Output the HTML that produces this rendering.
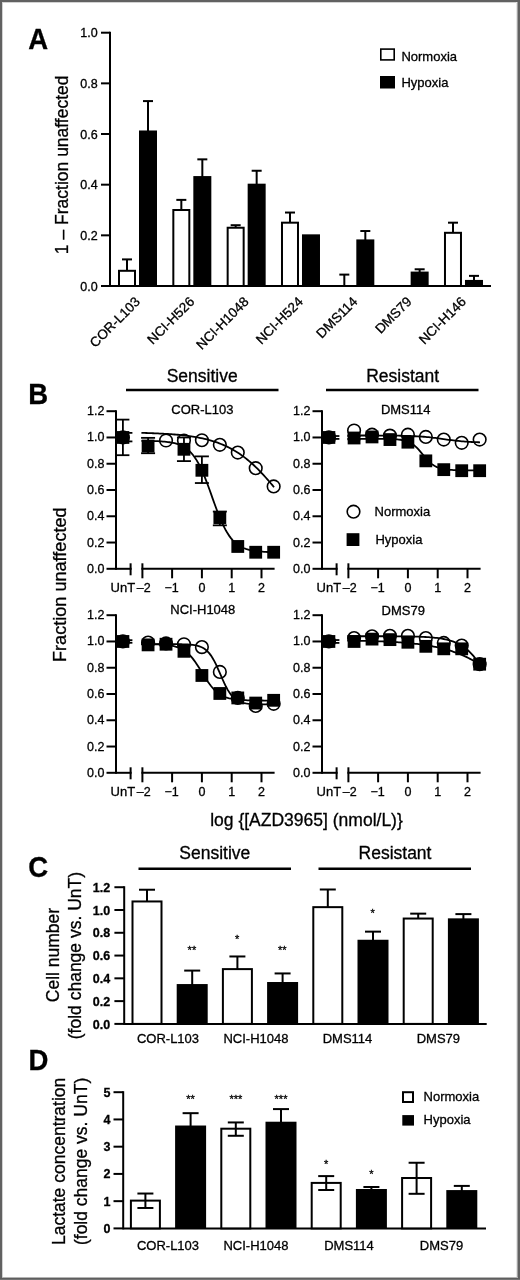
<!DOCTYPE html>
<html><head><meta charset="utf-8"><title>Figure</title>
<style>
html,body{margin:0;padding:0;background:#fff;}
.fig{position:relative;width:520px;height:1280px;background:#fff;overflow:hidden;}
svg{position:absolute;left:0;top:0;display:block;}
text{font-family:"Liberation Sans",Arial,Helvetica,sans-serif;fill:#000;stroke:#000;stroke-width:0.3px;}
</style></head><body>
<div class="fig"><svg width="520" height="1280" viewBox="0 0 520 1280">
<text transform="translate(28.3 49.4) scale(0.95 1)" font-size="29" font-weight="bold">A</text>
<line x1="110" y1="31.7" x2="110" y2="287" stroke="#000" stroke-width="2"/>
<line x1="110" y1="286" x2="491" y2="286" stroke="#000" stroke-width="2"/>
<line x1="101" y1="286" x2="110" y2="286" stroke="#000" stroke-width="2"/>
<text x="97.6" y="290.5" font-size="12.5" text-anchor="end">0.0</text>
<line x1="101" y1="235.34" x2="110" y2="235.34" stroke="#000" stroke-width="2"/>
<text x="97.6" y="239.84" font-size="12.5" text-anchor="end">0.2</text>
<line x1="101" y1="184.68" x2="110" y2="184.68" stroke="#000" stroke-width="2"/>
<text x="97.6" y="189.18" font-size="12.5" text-anchor="end">0.4</text>
<line x1="101" y1="134.02" x2="110" y2="134.02" stroke="#000" stroke-width="2"/>
<text x="97.6" y="138.52" font-size="12.5" text-anchor="end">0.6</text>
<line x1="101" y1="83.36" x2="110" y2="83.36" stroke="#000" stroke-width="2"/>
<text x="97.6" y="87.86" font-size="12.5" text-anchor="end">0.8</text>
<line x1="101" y1="32.7" x2="110" y2="32.7" stroke="#000" stroke-width="2"/>
<text x="97.6" y="37.2" font-size="12.5" text-anchor="end">1.0</text>
<text x="67.7" y="164.8" font-size="17.5" text-anchor="middle" transform="rotate(-90 67.7 164.8)">1 – Fraction unaffected</text>
<line x1="127" y1="270.8" x2="127" y2="259.4" stroke="#000" stroke-width="2"/>
<line x1="122" y1="259.4" x2="132" y2="259.4" stroke="#000" stroke-width="2"/>
<line x1="148" y1="131.49" x2="148" y2="101.09" stroke="#000" stroke-width="2"/>
<line x1="143" y1="101.09" x2="153" y2="101.09" stroke="#000" stroke-width="2"/>
<rect x="119" y="270.8" width="16" height="15.2" fill="#fff" stroke="#000" stroke-width="2"/>
<rect x="139" y="130.49" width="18" height="155.51" fill="#000"/>
<text x="140.9" y="302.5" font-size="13.5" text-anchor="end" transform="rotate(-45 140.9 302.5)">COR-L103</text>
<line x1="181.33" y1="210.01" x2="181.33" y2="199.88" stroke="#000" stroke-width="2"/>
<line x1="176.33" y1="199.88" x2="186.33" y2="199.88" stroke="#000" stroke-width="2"/>
<line x1="202.33" y1="177.08" x2="202.33" y2="159.35" stroke="#000" stroke-width="2"/>
<line x1="197.33" y1="159.35" x2="207.33" y2="159.35" stroke="#000" stroke-width="2"/>
<rect x="173.33" y="210.01" width="16" height="75.99" fill="#fff" stroke="#000" stroke-width="2"/>
<rect x="193.33" y="176.08" width="18" height="109.92" fill="#000"/>
<text x="195.23" y="302.5" font-size="13.5" text-anchor="end" transform="rotate(-45 195.23 302.5)">NCI-H526</text>
<line x1="235.66" y1="227.74" x2="235.66" y2="225.21" stroke="#000" stroke-width="2"/>
<line x1="230.66" y1="225.21" x2="240.66" y2="225.21" stroke="#000" stroke-width="2"/>
<line x1="256.66" y1="184.68" x2="256.66" y2="170.75" stroke="#000" stroke-width="2"/>
<line x1="251.66" y1="170.75" x2="261.66" y2="170.75" stroke="#000" stroke-width="2"/>
<rect x="227.66" y="227.74" width="16" height="58.26" fill="#fff" stroke="#000" stroke-width="2"/>
<rect x="247.66" y="183.68" width="18" height="102.32" fill="#000"/>
<text x="249.56" y="302.5" font-size="13.5" text-anchor="end" transform="rotate(-45 249.56 302.5)">NCI-H1048</text>
<line x1="289.99" y1="222.68" x2="289.99" y2="212.54" stroke="#000" stroke-width="2"/>
<line x1="284.99" y1="212.54" x2="294.99" y2="212.54" stroke="#000" stroke-width="2"/>
<rect x="281.99" y="222.68" width="16" height="63.32" fill="#fff" stroke="#000" stroke-width="2"/>
<rect x="301.99" y="234.34" width="18" height="51.66" fill="#000"/>
<text x="303.89" y="302.5" font-size="13.5" text-anchor="end" transform="rotate(-45 303.89 302.5)">NCI-H524</text>
<line x1="344.32" y1="286" x2="344.32" y2="274.6" stroke="#000" stroke-width="2"/>
<line x1="339.32" y1="274.6" x2="349.32" y2="274.6" stroke="#000" stroke-width="2"/>
<line x1="365.32" y1="240.41" x2="365.32" y2="231.03" stroke="#000" stroke-width="2"/>
<line x1="360.32" y1="231.03" x2="370.32" y2="231.03" stroke="#000" stroke-width="2"/>
<rect x="356.32" y="239.41" width="18" height="46.59" fill="#000"/>
<text x="358.22" y="302.5" font-size="13.5" text-anchor="end" transform="rotate(-45 358.22 302.5)">DMS114</text>
<line x1="419.65" y1="272.58" x2="419.65" y2="269.28" stroke="#000" stroke-width="2"/>
<line x1="414.65" y1="269.28" x2="424.65" y2="269.28" stroke="#000" stroke-width="2"/>
<rect x="410.65" y="271.58" width="18" height="14.42" fill="#000"/>
<text x="412.55" y="302.5" font-size="13.5" text-anchor="end" transform="rotate(-45 412.55 302.5)">DMS79</text>
<line x1="452.98" y1="232.81" x2="452.98" y2="222.68" stroke="#000" stroke-width="2"/>
<line x1="447.98" y1="222.68" x2="457.98" y2="222.68" stroke="#000" stroke-width="2"/>
<line x1="473.98" y1="280.93" x2="473.98" y2="275.87" stroke="#000" stroke-width="2"/>
<line x1="468.98" y1="275.87" x2="478.98" y2="275.87" stroke="#000" stroke-width="2"/>
<rect x="444.98" y="232.81" width="16" height="53.19" fill="#fff" stroke="#000" stroke-width="2"/>
<rect x="464.98" y="279.93" width="18" height="6.07" fill="#000"/>
<text x="466.88" y="302.5" font-size="13.5" text-anchor="end" transform="rotate(-45 466.88 302.5)">NCI-H146</text>
<rect x="380.8" y="49.1" width="13.4" height="10.8" fill="#fff" stroke="#000" stroke-width="1.6"/>
<rect x="380" y="76" width="15" height="12.5" fill="#000"/>
<text x="401.4" y="60.6" font-size="13">Normoxia</text>
<text x="401.4" y="86.7" font-size="13">Hypoxia</text>
<text transform="translate(28.3 403.6) scale(0.95 1)" font-size="29" font-weight="bold">B</text>
<line x1="126" y1="390" x2="278.5" y2="390" stroke="#000" stroke-width="2.4"/>
<line x1="326" y1="390" x2="478.5" y2="390" stroke="#000" stroke-width="2.4"/>
<text x="202.2" y="381.5" font-size="17.5" text-anchor="middle">Sensitive</text>
<text x="402.7" y="381.5" font-size="17.5" text-anchor="middle">Resistant</text>
<text x="66" y="584.7" font-size="18.1" text-anchor="middle" transform="rotate(-90 66 584.7)">Fraction unaffected</text>
<text x="306.5" y="825.5" font-size="17.5" text-anchor="middle">log {[AZD3965] (nmol/L)}</text>
<line x1="116" y1="410.2" x2="116" y2="569.8" stroke="#000" stroke-width="2"/>
<line x1="106.5" y1="568.8" x2="116" y2="568.8" stroke="#000" stroke-width="2"/>
<text x="104.5" y="572.8" font-size="12.5" text-anchor="end">0.0</text>
<line x1="106.5" y1="542.53" x2="116" y2="542.53" stroke="#000" stroke-width="2"/>
<text x="104.5" y="546.53" font-size="12.5" text-anchor="end">0.2</text>
<line x1="106.5" y1="516.27" x2="116" y2="516.27" stroke="#000" stroke-width="2"/>
<text x="104.5" y="520.27" font-size="12.5" text-anchor="end">0.4</text>
<line x1="106.5" y1="490" x2="116" y2="490" stroke="#000" stroke-width="2"/>
<text x="104.5" y="494" font-size="12.5" text-anchor="end">0.6</text>
<line x1="106.5" y1="463.74" x2="116" y2="463.74" stroke="#000" stroke-width="2"/>
<text x="104.5" y="467.74" font-size="12.5" text-anchor="end">0.8</text>
<line x1="106.5" y1="437.47" x2="116" y2="437.47" stroke="#000" stroke-width="2"/>
<text x="104.5" y="441.47" font-size="12.5" text-anchor="end">1.0</text>
<line x1="106.5" y1="411.2" x2="116" y2="411.2" stroke="#000" stroke-width="2"/>
<text x="104.5" y="415.2" font-size="12.5" text-anchor="end">1.2</text>
<line x1="116" y1="568.8" x2="131.6" y2="568.8" stroke="#000" stroke-width="2"/>
<line x1="130.6" y1="563.3" x2="130.6" y2="575.3" stroke="#000" stroke-width="2"/>
<line x1="141.4" y1="568.8" x2="274.6" y2="568.8" stroke="#000" stroke-width="2"/>
<line x1="142.4" y1="563.3" x2="142.4" y2="578.3" stroke="#000" stroke-width="2"/>
<line x1="172.1" y1="568.8" x2="172.1" y2="578.3" stroke="#000" stroke-width="2"/>
<line x1="201.9" y1="568.8" x2="201.9" y2="578.3" stroke="#000" stroke-width="2"/>
<line x1="231.7" y1="568.8" x2="231.7" y2="578.3" stroke="#000" stroke-width="2"/>
<line x1="261.5" y1="568.8" x2="261.5" y2="578.3" stroke="#000" stroke-width="2"/>
<text x="110.6" y="591.8" font-size="13">UnT</text>
<text x="143.8" y="591.8" font-size="12.5" text-anchor="middle">–2</text>
<text x="171.6" y="591.8" font-size="12.5" text-anchor="middle">−1</text>
<text x="201.9" y="591.8" font-size="12.5" text-anchor="middle">0</text>
<text x="231.7" y="591.8" font-size="12.5" text-anchor="middle">1</text>
<text x="261.5" y="591.8" font-size="12.5" text-anchor="middle">2</text>
<text x="202.4" y="413.7" font-size="13" text-anchor="middle">COR-L103</text>
<path d="M141.41 432.89 L143.06 432.93 L144.72 432.97 L146.38 433.02 L148.04 433.07 L149.69 433.13 L151.35 433.18 L153.01 433.24 L154.67 433.31 L156.32 433.38 L157.98 433.45 L159.64 433.53 L161.30 433.61 L162.96 433.70 L164.61 433.79 L166.27 433.89 L167.93 433.99 L169.59 434.10 L171.24 434.22 L172.90 434.35 L174.56 434.48 L176.22 434.62 L177.87 434.77 L179.53 434.93 L181.19 435.10 L182.85 435.28 L184.50 435.47 L186.16 435.67 L187.82 435.88 L189.48 436.11 L191.13 436.34 L192.79 436.60 L194.45 436.87 L196.11 437.15 L197.77 437.45 L199.42 437.77 L201.08 438.11 L202.74 438.46 L204.40 438.84 L206.05 439.24 L207.71 439.66 L209.37 440.10 L211.03 440.57 L212.68 441.07 L214.34 441.59 L216.00 442.14 L217.66 442.72 L219.31 443.34 L220.97 443.98 L222.63 444.66 L224.29 445.37 L225.94 446.12 L227.60 446.91 L229.26 447.73 L230.92 448.60 L232.58 449.51 L234.23 450.46 L235.89 451.45 L237.55 452.49 L239.21 453.57 L240.86 454.70 L242.52 455.88 L244.18 457.11 L245.84 458.38 L247.49 459.71 L249.15 461.08 L250.81 462.51 L252.47 463.98 L254.12 465.51 L255.78 467.08 L257.44 468.70 L259.10 470.37 L260.75 472.08 L262.41 473.84 L264.07 475.64 L265.73 477.48 L267.39 479.36 L269.04 481.27 L270.70 483.22 L272.36 485.20 L274.02 487.21" stroke="#000" stroke-width="1.8" fill="none"/>
<path d="M141.41 440.84 L143.06 440.86 L144.72 440.88 L146.38 440.90 L148.04 440.93 L149.69 440.96 L151.35 440.99 L153.01 441.04 L154.67 441.09 L156.32 441.15 L157.98 441.22 L159.64 441.31 L161.30 441.41 L162.96 441.53 L164.61 441.67 L166.27 441.84 L167.93 442.03 L169.59 442.26 L171.24 442.53 L172.90 442.85 L174.56 443.23 L176.22 443.67 L177.87 444.18 L179.53 444.79 L181.19 445.49 L182.85 446.32 L184.50 447.27 L186.16 448.38 L187.82 449.66 L189.48 451.14 L191.13 452.83 L192.79 454.76 L194.45 456.95 L196.11 459.41 L197.77 462.17 L199.42 465.22 L201.08 468.58 L202.74 472.23 L204.40 476.16 L206.05 480.33 L207.71 484.71 L209.37 489.26 L211.03 493.90 L212.68 498.58 L214.34 503.23 L216.00 507.79 L217.66 512.20 L219.31 516.40 L220.97 520.37 L222.63 524.06 L224.29 527.46 L225.94 530.55 L227.60 533.35 L229.26 535.86 L230.92 538.08 L232.58 540.05 L234.23 541.77 L235.89 543.28 L237.55 544.59 L239.21 545.72 L240.86 546.69 L242.52 547.54 L244.18 548.26 L245.84 548.87 L247.49 549.40 L249.15 549.85 L250.81 550.24 L252.47 550.56 L254.12 550.84 L255.78 551.08 L257.44 551.28 L259.10 551.45 L260.75 551.59 L262.41 551.71 L264.07 551.81 L265.73 551.90 L267.39 551.98 L269.04 552.04 L270.70 552.09 L272.36 552.14 L274.02 552.18" stroke="#000" stroke-width="1.8" fill="none"/>
<line x1="122.9" y1="455.2" x2="122.9" y2="419.61" stroke="#000" stroke-width="1.8"/>
<line x1="117" y1="455.2" x2="129.4" y2="455.2" stroke="#000" stroke-width="1.8"/>
<line x1="117" y1="419.61" x2="129.4" y2="419.61" stroke="#000" stroke-width="1.8"/>
<line x1="122.9" y1="441.41" x2="122.9" y2="432.87" stroke="#000" stroke-width="1.8"/>
<line x1="117" y1="441.41" x2="132.4" y2="441.41" stroke="#000" stroke-width="1.8"/>
<line x1="117" y1="432.87" x2="132.4" y2="432.87" stroke="#000" stroke-width="1.8"/>
<line x1="148.08" y1="453.23" x2="148.08" y2="437.86" stroke="#000" stroke-width="1.8"/>
<line x1="141.08" y1="453.23" x2="155.08" y2="453.23" stroke="#000" stroke-width="1.8"/>
<line x1="141.08" y1="437.86" x2="155.08" y2="437.86" stroke="#000" stroke-width="1.8"/>
<line x1="183.96" y1="461.11" x2="183.96" y2="437.47" stroke="#000" stroke-width="1.8"/>
<line x1="176.96" y1="461.11" x2="190.96" y2="461.11" stroke="#000" stroke-width="1.8"/>
<line x1="176.96" y1="437.47" x2="190.96" y2="437.47" stroke="#000" stroke-width="1.8"/>
<line x1="201.9" y1="483.04" x2="201.9" y2="456.38" stroke="#000" stroke-width="1.8"/>
<line x1="194.9" y1="483.04" x2="208.9" y2="483.04" stroke="#000" stroke-width="1.8"/>
<line x1="194.9" y1="456.38" x2="208.9" y2="456.38" stroke="#000" stroke-width="1.8"/>
<line x1="219.84" y1="525.33" x2="219.84" y2="511.54" stroke="#000" stroke-width="1.8"/>
<line x1="212.84" y1="525.33" x2="226.84" y2="525.33" stroke="#000" stroke-width="1.8"/>
<line x1="212.84" y1="511.54" x2="226.84" y2="511.54" stroke="#000" stroke-width="1.8"/>
<circle cx="122.9" cy="437.47" r="6.3" fill="none" stroke="#000" stroke-width="1.6"/>
<circle cx="166.02" cy="440.49" r="6.3" fill="none" stroke="#000" stroke-width="1.6"/>
<circle cx="183.96" cy="440.49" r="6.3" fill="none" stroke="#000" stroke-width="1.6"/>
<circle cx="201.9" cy="440.23" r="6.3" fill="none" stroke="#000" stroke-width="1.6"/>
<circle cx="219.84" cy="444.82" r="6.3" fill="none" stroke="#000" stroke-width="1.6"/>
<circle cx="237.78" cy="452.57" r="6.3" fill="none" stroke="#000" stroke-width="1.6"/>
<circle cx="255.72" cy="468.2" r="6.3" fill="none" stroke="#000" stroke-width="1.6"/>
<circle cx="273.66" cy="486.46" r="6.3" fill="none" stroke="#000" stroke-width="1.6"/>
<rect x="116.5" y="431.07" width="12.8" height="12.8" fill="#000"/>
<rect x="141.68" y="439.61" width="12.8" height="12.8" fill="#000"/>
<rect x="177.56" y="442.89" width="12.8" height="12.8" fill="#000"/>
<rect x="195.5" y="463.9" width="12.8" height="12.8" fill="#000"/>
<rect x="213.44" y="511.18" width="12.8" height="12.8" fill="#000"/>
<rect x="231.38" y="540.07" width="12.8" height="12.8" fill="#000"/>
<rect x="249.32" y="545.85" width="12.8" height="12.8" fill="#000"/>
<rect x="267.26" y="545.85" width="12.8" height="12.8" fill="#000"/>
<line x1="322" y1="410.2" x2="322" y2="569.8" stroke="#000" stroke-width="2"/>
<line x1="312.5" y1="568.8" x2="322" y2="568.8" stroke="#000" stroke-width="2"/>
<text x="310.5" y="572.8" font-size="12.5" text-anchor="end">0.0</text>
<line x1="312.5" y1="542.53" x2="322" y2="542.53" stroke="#000" stroke-width="2"/>
<text x="310.5" y="546.53" font-size="12.5" text-anchor="end">0.2</text>
<line x1="312.5" y1="516.27" x2="322" y2="516.27" stroke="#000" stroke-width="2"/>
<text x="310.5" y="520.27" font-size="12.5" text-anchor="end">0.4</text>
<line x1="312.5" y1="490" x2="322" y2="490" stroke="#000" stroke-width="2"/>
<text x="310.5" y="494" font-size="12.5" text-anchor="end">0.6</text>
<line x1="312.5" y1="463.74" x2="322" y2="463.74" stroke="#000" stroke-width="2"/>
<text x="310.5" y="467.74" font-size="12.5" text-anchor="end">0.8</text>
<line x1="312.5" y1="437.47" x2="322" y2="437.47" stroke="#000" stroke-width="2"/>
<text x="310.5" y="441.47" font-size="12.5" text-anchor="end">1.0</text>
<line x1="312.5" y1="411.2" x2="322" y2="411.2" stroke="#000" stroke-width="2"/>
<text x="310.5" y="415.2" font-size="12.5" text-anchor="end">1.2</text>
<line x1="322" y1="568.8" x2="337.6" y2="568.8" stroke="#000" stroke-width="2"/>
<line x1="336.6" y1="563.3" x2="336.6" y2="575.3" stroke="#000" stroke-width="2"/>
<line x1="347.4" y1="568.8" x2="480.6" y2="568.8" stroke="#000" stroke-width="2"/>
<line x1="348.4" y1="563.3" x2="348.4" y2="578.3" stroke="#000" stroke-width="2"/>
<line x1="378.1" y1="568.8" x2="378.1" y2="578.3" stroke="#000" stroke-width="2"/>
<line x1="407.9" y1="568.8" x2="407.9" y2="578.3" stroke="#000" stroke-width="2"/>
<line x1="437.7" y1="568.8" x2="437.7" y2="578.3" stroke="#000" stroke-width="2"/>
<line x1="467.5" y1="568.8" x2="467.5" y2="578.3" stroke="#000" stroke-width="2"/>
<text x="316.6" y="591.8" font-size="13">UnT</text>
<text x="349.8" y="591.8" font-size="12.5" text-anchor="middle">–2</text>
<text x="377.6" y="591.8" font-size="12.5" text-anchor="middle">−1</text>
<text x="407.9" y="591.8" font-size="12.5" text-anchor="middle">0</text>
<text x="437.7" y="591.8" font-size="12.5" text-anchor="middle">1</text>
<text x="467.5" y="591.8" font-size="12.5" text-anchor="middle">2</text>
<text x="405.7" y="414" font-size="13" text-anchor="middle">DMS114</text>
<path d="M347.41 435.50 L349.06 435.50 L350.72 435.51 L352.38 435.51 L354.04 435.51 L355.69 435.51 L357.35 435.51 L359.01 435.51 L360.67 435.51 L362.32 435.51 L363.98 435.52 L365.64 435.52 L367.30 435.52 L368.96 435.52 L370.61 435.53 L372.27 435.53 L373.93 435.53 L375.59 435.54 L377.24 435.54 L378.90 435.55 L380.56 435.55 L382.22 435.56 L383.87 435.57 L385.53 435.58 L387.19 435.59 L388.85 435.60 L390.50 435.62 L392.16 435.63 L393.82 435.65 L395.48 435.67 L397.13 435.69 L398.79 435.72 L400.45 435.75 L402.11 435.78 L403.77 435.82 L405.42 435.86 L407.08 435.90 L408.74 435.96 L410.40 436.01 L412.05 436.08 L413.71 436.15 L415.37 436.23 L417.03 436.32 L418.68 436.42 L420.34 436.52 L422.00 436.64 L423.66 436.77 L425.31 436.91 L426.97 437.06 L428.63 437.22 L430.29 437.40 L431.94 437.58 L433.60 437.77 L435.26 437.98 L436.92 438.19 L438.58 438.41 L440.23 438.64 L441.89 438.87 L443.55 439.10 L445.21 439.33 L446.86 439.56 L448.52 439.78 L450.18 440.00 L451.84 440.22 L453.49 440.42 L455.15 440.62 L456.81 440.80 L458.47 440.98 L460.12 441.14 L461.78 441.29 L463.44 441.44 L465.10 441.57 L466.75 441.68 L468.41 441.79 L470.07 441.89 L471.73 441.98 L473.39 442.06 L475.04 442.14 L476.70 442.20 L478.36 442.26 L480.02 442.31" stroke="#000" stroke-width="1.8" fill="none"/>
<path d="M347.41 438.78 L349.06 438.78 L350.72 438.78 L352.38 438.78 L354.04 438.78 L355.69 438.78 L357.35 438.78 L359.01 438.78 L360.67 438.79 L362.32 438.79 L363.98 438.79 L365.64 438.79 L367.30 438.79 L368.96 438.79 L370.61 438.79 L372.27 438.80 L373.93 438.80 L375.59 438.80 L377.24 438.81 L378.90 438.82 L380.56 438.83 L382.22 438.84 L383.87 438.86 L385.53 438.88 L387.19 438.91 L388.85 438.95 L390.50 439.00 L392.16 439.06 L393.82 439.14 L395.48 439.24 L397.13 439.37 L398.79 439.54 L400.45 439.75 L402.11 440.02 L403.77 440.36 L405.42 440.80 L407.08 441.34 L408.74 442.00 L410.40 442.82 L412.05 443.82 L413.71 445.00 L415.37 446.37 L417.03 447.94 L418.68 449.69 L420.34 451.58 L422.00 453.57 L423.66 455.58 L425.31 457.57 L426.97 459.45 L428.63 461.20 L430.29 462.76 L431.94 464.13 L433.60 465.31 L435.26 466.29 L436.92 467.11 L438.58 467.77 L440.23 468.31 L441.89 468.74 L443.55 469.08 L445.21 469.34 L446.86 469.56 L448.52 469.72 L450.18 469.85 L451.84 469.95 L453.49 470.03 L455.15 470.09 L456.81 470.14 L458.47 470.18 L460.12 470.20 L461.78 470.23 L463.44 470.24 L465.10 470.26 L466.75 470.27 L468.41 470.28 L470.07 470.28 L471.73 470.29 L473.39 470.29 L475.04 470.29 L476.70 470.29 L478.36 470.30 L480.02 470.30" stroke="#000" stroke-width="1.8" fill="none"/>
<line x1="328.9" y1="440.75" x2="328.9" y2="434.19" stroke="#000" stroke-width="1.8"/>
<line x1="323" y1="440.75" x2="335.4" y2="440.75" stroke="#000" stroke-width="1.8"/>
<line x1="323" y1="434.19" x2="335.4" y2="434.19" stroke="#000" stroke-width="1.8"/>
<line x1="328.9" y1="438.91" x2="328.9" y2="436.03" stroke="#000" stroke-width="1.8"/>
<line x1="323" y1="438.91" x2="339.4" y2="438.91" stroke="#000" stroke-width="1.8"/>
<line x1="323" y1="436.03" x2="339.4" y2="436.03" stroke="#000" stroke-width="1.8"/>
<line x1="354.08" y1="439.44" x2="354.08" y2="436.16" stroke="#000" stroke-width="1.8"/>
<line x1="347.58" y1="439.44" x2="360.58" y2="439.44" stroke="#000" stroke-width="1.8"/>
<line x1="347.58" y1="436.16" x2="360.58" y2="436.16" stroke="#000" stroke-width="1.8"/>
<circle cx="328.9" cy="437.47" r="6.3" fill="none" stroke="#000" stroke-width="1.6"/>
<circle cx="354.08" cy="430.51" r="6.3" fill="none" stroke="#000" stroke-width="1.6"/>
<circle cx="372.02" cy="434.71" r="6.3" fill="none" stroke="#000" stroke-width="1.6"/>
<circle cx="389.96" cy="435.63" r="6.3" fill="none" stroke="#000" stroke-width="1.6"/>
<circle cx="407.9" cy="434.71" r="6.3" fill="none" stroke="#000" stroke-width="1.6"/>
<circle cx="425.84" cy="436.94" r="6.3" fill="none" stroke="#000" stroke-width="1.6"/>
<circle cx="443.78" cy="439.57" r="6.3" fill="none" stroke="#000" stroke-width="1.6"/>
<circle cx="461.72" cy="442.85" r="6.3" fill="none" stroke="#000" stroke-width="1.6"/>
<circle cx="479.66" cy="439.57" r="6.3" fill="none" stroke="#000" stroke-width="1.6"/>
<rect x="322.5" y="431.07" width="12.8" height="12.8" fill="#000"/>
<rect x="347.68" y="431.6" width="12.8" height="12.8" fill="#000"/>
<rect x="365.62" y="430.54" width="12.8" height="12.8" fill="#000"/>
<rect x="383.56" y="433.17" width="12.8" height="12.8" fill="#000"/>
<rect x="401.5" y="435.8" width="12.8" height="12.8" fill="#000"/>
<rect x="419.44" y="454.45" width="12.8" height="12.8" fill="#000"/>
<rect x="437.38" y="463.25" width="12.8" height="12.8" fill="#000"/>
<rect x="455.32" y="464.3" width="12.8" height="12.8" fill="#000"/>
<rect x="473.26" y="464.3" width="12.8" height="12.8" fill="#000"/>
<line x1="116" y1="614.2" x2="116" y2="773.8" stroke="#000" stroke-width="2"/>
<line x1="106.5" y1="772.8" x2="116" y2="772.8" stroke="#000" stroke-width="2"/>
<text x="104.5" y="776.8" font-size="12.5" text-anchor="end">0.0</text>
<line x1="106.5" y1="746.53" x2="116" y2="746.53" stroke="#000" stroke-width="2"/>
<text x="104.5" y="750.53" font-size="12.5" text-anchor="end">0.2</text>
<line x1="106.5" y1="720.27" x2="116" y2="720.27" stroke="#000" stroke-width="2"/>
<text x="104.5" y="724.27" font-size="12.5" text-anchor="end">0.4</text>
<line x1="106.5" y1="694" x2="116" y2="694" stroke="#000" stroke-width="2"/>
<text x="104.5" y="698" font-size="12.5" text-anchor="end">0.6</text>
<line x1="106.5" y1="667.74" x2="116" y2="667.74" stroke="#000" stroke-width="2"/>
<text x="104.5" y="671.74" font-size="12.5" text-anchor="end">0.8</text>
<line x1="106.5" y1="641.47" x2="116" y2="641.47" stroke="#000" stroke-width="2"/>
<text x="104.5" y="645.47" font-size="12.5" text-anchor="end">1.0</text>
<line x1="106.5" y1="615.2" x2="116" y2="615.2" stroke="#000" stroke-width="2"/>
<text x="104.5" y="619.2" font-size="12.5" text-anchor="end">1.2</text>
<line x1="116" y1="772.8" x2="131.6" y2="772.8" stroke="#000" stroke-width="2"/>
<line x1="130.6" y1="767.3" x2="130.6" y2="779.3" stroke="#000" stroke-width="2"/>
<line x1="141.4" y1="772.8" x2="274.6" y2="772.8" stroke="#000" stroke-width="2"/>
<line x1="142.4" y1="767.3" x2="142.4" y2="782.3" stroke="#000" stroke-width="2"/>
<line x1="172.1" y1="772.8" x2="172.1" y2="782.3" stroke="#000" stroke-width="2"/>
<line x1="201.9" y1="772.8" x2="201.9" y2="782.3" stroke="#000" stroke-width="2"/>
<line x1="231.7" y1="772.8" x2="231.7" y2="782.3" stroke="#000" stroke-width="2"/>
<line x1="261.5" y1="772.8" x2="261.5" y2="782.3" stroke="#000" stroke-width="2"/>
<text x="110.6" y="795.8" font-size="13">UnT</text>
<text x="143.8" y="795.8" font-size="12.5" text-anchor="middle">–2</text>
<text x="171.6" y="795.8" font-size="12.5" text-anchor="middle">−1</text>
<text x="201.9" y="795.8" font-size="12.5" text-anchor="middle">0</text>
<text x="231.7" y="795.8" font-size="12.5" text-anchor="middle">1</text>
<text x="261.5" y="795.8" font-size="12.5" text-anchor="middle">2</text>
<text x="202.8" y="614.2" font-size="13" text-anchor="middle">NCI-H1048</text>
<path d="M141.41 644.10 L143.06 644.10 L144.72 644.10 L146.38 644.10 L148.04 644.10 L149.69 644.10 L151.35 644.10 L153.01 644.10 L154.67 644.10 L156.32 644.10 L157.98 644.10 L159.64 644.10 L161.30 644.10 L162.96 644.11 L164.61 644.11 L166.27 644.11 L167.93 644.11 L169.59 644.12 L171.24 644.13 L172.90 644.14 L174.56 644.15 L176.22 644.16 L177.87 644.18 L179.53 644.21 L181.19 644.24 L182.85 644.28 L184.50 644.33 L186.16 644.40 L187.82 644.49 L189.48 644.60 L191.13 644.75 L192.79 644.94 L194.45 645.18 L196.11 645.48 L197.77 645.88 L199.42 646.38 L201.08 647.01 L202.74 647.81 L204.40 648.81 L206.05 650.05 L207.71 651.57 L209.37 653.42 L211.03 655.62 L212.68 658.20 L214.34 661.16 L216.00 664.46 L217.66 668.05 L219.31 671.83 L220.97 675.69 L222.63 679.51 L224.29 683.16 L225.94 686.55 L227.60 689.61 L229.26 692.30 L230.92 694.60 L232.58 696.55 L234.23 698.16 L235.89 699.47 L237.55 700.54 L239.21 701.39 L240.86 702.06 L242.52 702.60 L244.18 703.02 L245.84 703.35 L247.49 703.61 L249.15 703.81 L250.81 703.97 L252.47 704.09 L254.12 704.18 L255.78 704.26 L257.44 704.31 L259.10 704.36 L260.75 704.39 L262.41 704.42 L264.07 704.44 L265.73 704.45 L267.39 704.47 L269.04 704.48 L270.70 704.48 L272.36 704.49 L274.02 704.49" stroke="#000" stroke-width="1.8" fill="none"/>
<path d="M141.41 644.15 L143.06 644.16 L144.72 644.17 L146.38 644.19 L148.04 644.21 L149.69 644.23 L151.35 644.26 L153.01 644.29 L154.67 644.33 L156.32 644.38 L157.98 644.44 L159.64 644.51 L161.30 644.60 L162.96 644.71 L164.61 644.84 L166.27 644.99 L167.93 645.18 L169.59 645.40 L171.24 645.67 L172.90 645.99 L174.56 646.38 L176.22 646.83 L177.87 647.38 L179.53 648.03 L181.19 648.79 L182.85 649.69 L184.50 650.73 L186.16 651.94 L187.82 653.33 L189.48 654.91 L191.13 656.70 L192.79 658.67 L194.45 660.85 L196.11 663.20 L197.77 665.69 L199.42 668.31 L201.08 670.99 L202.74 673.70 L204.40 676.39 L206.05 679.00 L207.71 681.50 L209.37 683.84 L211.03 686.01 L212.68 687.99 L214.34 689.77 L216.00 691.35 L217.66 692.74 L219.31 693.94 L220.97 694.99 L222.63 695.88 L224.29 696.64 L225.94 697.29 L227.60 697.84 L229.26 698.29 L230.92 698.68 L232.58 699.00 L234.23 699.27 L235.89 699.49 L237.55 699.68 L239.21 699.83 L240.86 699.96 L242.52 700.06 L244.18 700.15 L245.84 700.22 L247.49 700.28 L249.15 700.33 L250.81 700.37 L252.47 700.41 L254.12 700.44 L255.78 700.46 L257.44 700.48 L259.10 700.49 L260.75 700.51 L262.41 700.52 L264.07 700.53 L265.73 700.53 L267.39 700.54 L269.04 700.54 L270.70 700.55 L272.36 700.55 L274.02 700.56" stroke="#000" stroke-width="1.8" fill="none"/>
<line x1="122.9" y1="642.78" x2="122.9" y2="640.16" stroke="#000" stroke-width="1.8"/>
<line x1="117" y1="642.78" x2="132.4" y2="642.78" stroke="#000" stroke-width="1.8"/>
<line x1="117" y1="640.16" x2="132.4" y2="640.16" stroke="#000" stroke-width="1.8"/>
<circle cx="122.9" cy="641.47" r="6.3" fill="none" stroke="#000" stroke-width="1.6"/>
<circle cx="148.08" cy="642.52" r="6.3" fill="none" stroke="#000" stroke-width="1.6"/>
<circle cx="166.02" cy="643.44" r="6.3" fill="none" stroke="#000" stroke-width="1.6"/>
<circle cx="183.96" cy="644.23" r="6.3" fill="none" stroke="#000" stroke-width="1.6"/>
<circle cx="201.9" cy="647.12" r="6.3" fill="none" stroke="#000" stroke-width="1.6"/>
<circle cx="219.84" cy="671.94" r="6.3" fill="none" stroke="#000" stroke-width="1.6"/>
<circle cx="237.78" cy="697.94" r="6.3" fill="none" stroke="#000" stroke-width="1.6"/>
<circle cx="255.72" cy="705.95" r="6.3" fill="none" stroke="#000" stroke-width="1.6"/>
<circle cx="273.66" cy="703.85" r="6.3" fill="none" stroke="#000" stroke-width="1.6"/>
<rect x="116.5" y="635.07" width="12.8" height="12.8" fill="#000"/>
<rect x="141.68" y="638.48" width="12.8" height="12.8" fill="#000"/>
<rect x="159.62" y="637.83" width="12.8" height="12.8" fill="#000"/>
<rect x="177.56" y="644.92" width="12.8" height="12.8" fill="#000"/>
<rect x="195.5" y="669.08" width="12.8" height="12.8" fill="#000"/>
<rect x="213.44" y="687.08" width="12.8" height="12.8" fill="#000"/>
<rect x="231.38" y="691.54" width="12.8" height="12.8" fill="#000"/>
<rect x="249.32" y="696.66" width="12.8" height="12.8" fill="#000"/>
<rect x="267.26" y="693.91" width="12.8" height="12.8" fill="#000"/>
<line x1="322" y1="614.2" x2="322" y2="773.8" stroke="#000" stroke-width="2"/>
<line x1="312.5" y1="772.8" x2="322" y2="772.8" stroke="#000" stroke-width="2"/>
<text x="310.5" y="776.8" font-size="12.5" text-anchor="end">0.0</text>
<line x1="312.5" y1="746.53" x2="322" y2="746.53" stroke="#000" stroke-width="2"/>
<text x="310.5" y="750.53" font-size="12.5" text-anchor="end">0.2</text>
<line x1="312.5" y1="720.27" x2="322" y2="720.27" stroke="#000" stroke-width="2"/>
<text x="310.5" y="724.27" font-size="12.5" text-anchor="end">0.4</text>
<line x1="312.5" y1="694" x2="322" y2="694" stroke="#000" stroke-width="2"/>
<text x="310.5" y="698" font-size="12.5" text-anchor="end">0.6</text>
<line x1="312.5" y1="667.74" x2="322" y2="667.74" stroke="#000" stroke-width="2"/>
<text x="310.5" y="671.74" font-size="12.5" text-anchor="end">0.8</text>
<line x1="312.5" y1="641.47" x2="322" y2="641.47" stroke="#000" stroke-width="2"/>
<text x="310.5" y="645.47" font-size="12.5" text-anchor="end">1.0</text>
<line x1="312.5" y1="615.2" x2="322" y2="615.2" stroke="#000" stroke-width="2"/>
<text x="310.5" y="619.2" font-size="12.5" text-anchor="end">1.2</text>
<line x1="322" y1="772.8" x2="337.6" y2="772.8" stroke="#000" stroke-width="2"/>
<line x1="336.6" y1="767.3" x2="336.6" y2="779.3" stroke="#000" stroke-width="2"/>
<line x1="347.4" y1="772.8" x2="480.6" y2="772.8" stroke="#000" stroke-width="2"/>
<line x1="348.4" y1="767.3" x2="348.4" y2="782.3" stroke="#000" stroke-width="2"/>
<line x1="378.1" y1="772.8" x2="378.1" y2="782.3" stroke="#000" stroke-width="2"/>
<line x1="407.9" y1="772.8" x2="407.9" y2="782.3" stroke="#000" stroke-width="2"/>
<line x1="437.7" y1="772.8" x2="437.7" y2="782.3" stroke="#000" stroke-width="2"/>
<line x1="467.5" y1="772.8" x2="467.5" y2="782.3" stroke="#000" stroke-width="2"/>
<text x="316.6" y="795.8" font-size="13">UnT</text>
<text x="349.8" y="795.8" font-size="12.5" text-anchor="middle">–2</text>
<text x="377.6" y="795.8" font-size="12.5" text-anchor="middle">−1</text>
<text x="407.9" y="795.8" font-size="12.5" text-anchor="middle">0</text>
<text x="437.7" y="795.8" font-size="12.5" text-anchor="middle">1</text>
<text x="467.5" y="795.8" font-size="12.5" text-anchor="middle">2</text>
<text x="403.2" y="614.5" font-size="13" text-anchor="middle">DMS79</text>
<path d="M347.41 636.22 L349.06 636.22 L350.72 636.22 L352.38 636.22 L354.04 636.22 L355.69 636.22 L357.35 636.22 L359.01 636.22 L360.67 636.23 L362.32 636.23 L363.98 636.23 L365.64 636.23 L367.30 636.23 L368.96 636.23 L370.61 636.23 L372.27 636.24 L373.93 636.24 L375.59 636.24 L377.24 636.24 L378.90 636.25 L380.56 636.25 L382.22 636.25 L383.87 636.26 L385.53 636.26 L387.19 636.27 L388.85 636.28 L390.50 636.28 L392.16 636.29 L393.82 636.30 L395.48 636.31 L397.13 636.32 L398.79 636.34 L400.45 636.35 L402.11 636.37 L403.77 636.39 L405.42 636.41 L407.08 636.43 L408.74 636.46 L410.40 636.49 L412.05 636.52 L413.71 636.56 L415.37 636.61 L417.03 636.65 L418.68 636.71 L420.34 636.77 L422.00 636.84 L423.66 636.91 L425.31 637.00 L426.97 637.09 L428.63 637.20 L430.29 637.32 L431.94 637.46 L433.60 637.61 L435.26 637.78 L436.92 637.97 L438.58 638.18 L440.23 638.42 L441.89 638.69 L443.55 638.99 L445.21 639.32 L446.86 639.69 L448.52 640.11 L450.18 640.58 L451.84 641.10 L453.49 641.68 L455.15 642.32 L456.81 643.04 L458.47 643.84 L460.12 644.72 L461.78 645.70 L463.44 646.78 L465.10 647.97 L466.75 649.28 L468.41 650.73 L470.07 652.31 L471.73 654.04 L473.39 655.93 L475.04 657.97 L476.70 660.19 L478.36 662.58 L480.02 665.15" stroke="#000" stroke-width="1.8" fill="none"/>
<path d="M347.41 640.57 L349.06 640.60 L350.72 640.62 L352.38 640.64 L354.04 640.67 L355.69 640.70 L357.35 640.73 L359.01 640.76 L360.67 640.79 L362.32 640.83 L363.98 640.87 L365.64 640.90 L367.30 640.94 L368.96 640.99 L370.61 641.03 L372.27 641.08 L373.93 641.13 L375.59 641.18 L377.24 641.24 L378.90 641.30 L380.56 641.36 L382.22 641.43 L383.87 641.50 L385.53 641.57 L387.19 641.64 L388.85 641.72 L390.50 641.81 L392.16 641.90 L393.82 641.99 L395.48 642.09 L397.13 642.20 L398.79 642.31 L400.45 642.42 L402.11 642.55 L403.77 642.67 L405.42 642.81 L407.08 642.95 L408.74 643.10 L410.40 643.26 L412.05 643.43 L413.71 643.60 L415.37 643.78 L417.03 643.98 L418.68 644.18 L420.34 644.39 L422.00 644.62 L423.66 644.86 L425.31 645.10 L426.97 645.36 L428.63 645.64 L430.29 645.93 L431.94 646.23 L433.60 646.55 L435.26 646.88 L436.92 647.23 L438.58 647.59 L440.23 647.98 L441.89 648.38 L443.55 648.80 L445.21 649.24 L446.86 649.71 L448.52 650.19 L450.18 650.70 L451.84 651.23 L453.49 651.78 L455.15 652.36 L456.81 652.97 L458.47 653.60 L460.12 654.26 L461.78 654.94 L463.44 655.66 L465.10 656.41 L466.75 657.18 L468.41 657.99 L470.07 658.83 L471.73 659.71 L473.39 660.61 L475.04 661.55 L476.70 662.53 L478.36 663.54 L480.02 664.59" stroke="#000" stroke-width="1.8" fill="none"/>
<line x1="328.9" y1="642.91" x2="328.9" y2="640.03" stroke="#000" stroke-width="1.8"/>
<line x1="323" y1="642.91" x2="339.4" y2="642.91" stroke="#000" stroke-width="1.8"/>
<line x1="323" y1="640.03" x2="339.4" y2="640.03" stroke="#000" stroke-width="1.8"/>
<circle cx="328.9" cy="641.47" r="6.3" fill="none" stroke="#000" stroke-width="1.6"/>
<circle cx="354.08" cy="638.06" r="6.3" fill="none" stroke="#000" stroke-width="1.6"/>
<circle cx="372.02" cy="636.35" r="6.3" fill="none" stroke="#000" stroke-width="1.6"/>
<circle cx="389.96" cy="635.82" r="6.3" fill="none" stroke="#000" stroke-width="1.6"/>
<circle cx="407.9" cy="635.82" r="6.3" fill="none" stroke="#000" stroke-width="1.6"/>
<circle cx="425.84" cy="638.06" r="6.3" fill="none" stroke="#000" stroke-width="1.6"/>
<circle cx="443.78" cy="642.91" r="6.3" fill="none" stroke="#000" stroke-width="1.6"/>
<circle cx="461.72" cy="645.54" r="6.3" fill="none" stroke="#000" stroke-width="1.6"/>
<circle cx="479.66" cy="664.19" r="6.3" fill="none" stroke="#000" stroke-width="1.6"/>
<rect x="322.5" y="635.07" width="12.8" height="12.8" fill="#000"/>
<rect x="347.68" y="635.07" width="12.8" height="12.8" fill="#000"/>
<rect x="365.62" y="632.71" width="12.8" height="12.8" fill="#000"/>
<rect x="383.56" y="633.23" width="12.8" height="12.8" fill="#000"/>
<rect x="401.5" y="635.86" width="12.8" height="12.8" fill="#000"/>
<rect x="419.44" y="639.93" width="12.8" height="12.8" fill="#000"/>
<rect x="437.38" y="642.42" width="12.8" height="12.8" fill="#000"/>
<rect x="455.32" y="642.42" width="12.8" height="12.8" fill="#000"/>
<rect x="473.26" y="657.79" width="12.8" height="12.8" fill="#000"/>
<circle cx="353.5" cy="511.7" r="6.3" fill="none" stroke="#000" stroke-width="1.6"/>
<rect x="346.6" y="533.2" width="12.8" height="12.8" fill="#000"/>
<text x="374.6" y="516.2" font-size="13">Normoxia</text>
<text x="375.4" y="544.2" font-size="13">Hypoxia</text>
<text transform="translate(28.2 876.9) scale(0.95 1)" font-size="29" font-weight="bold">C</text>
<line x1="124.2" y1="886.22" x2="124.2" y2="1024.9" stroke="#000" stroke-width="2"/>
<line x1="124.2" y1="1023.9" x2="486.7" y2="1023.9" stroke="#000" stroke-width="2"/>
<line x1="114.4" y1="1023.9" x2="124.2" y2="1023.9" stroke="#000" stroke-width="2"/>
<text x="110.1" y="1028.6" font-size="12.5" text-anchor="end" font-weight="bold">0.0</text>
<line x1="114.4" y1="1001.12" x2="124.2" y2="1001.12" stroke="#000" stroke-width="2"/>
<text x="110.1" y="1005.82" font-size="12.5" text-anchor="end" font-weight="bold">0.2</text>
<line x1="114.4" y1="978.34" x2="124.2" y2="978.34" stroke="#000" stroke-width="2"/>
<text x="110.1" y="983.04" font-size="12.5" text-anchor="end" font-weight="bold">0.4</text>
<line x1="114.4" y1="955.56" x2="124.2" y2="955.56" stroke="#000" stroke-width="2"/>
<text x="110.1" y="960.26" font-size="12.5" text-anchor="end" font-weight="bold">0.6</text>
<line x1="114.4" y1="932.78" x2="124.2" y2="932.78" stroke="#000" stroke-width="2"/>
<text x="110.1" y="937.48" font-size="12.5" text-anchor="end" font-weight="bold">0.8</text>
<line x1="114.4" y1="910" x2="124.2" y2="910" stroke="#000" stroke-width="2"/>
<text x="110.1" y="914.7" font-size="12.5" text-anchor="end" font-weight="bold">1.0</text>
<line x1="114.4" y1="887.22" x2="124.2" y2="887.22" stroke="#000" stroke-width="2"/>
<text x="110.1" y="891.92" font-size="12.5" text-anchor="end" font-weight="bold">1.2</text>
<text x="59.2" y="955" font-size="17.5" text-anchor="middle" transform="rotate(-90 59.2 955)">Cell number</text>
<text x="81.3" y="955.6" font-size="17.5" text-anchor="middle" transform="rotate(-90 81.3 955.6)">(fold change vs. UnT)</text>
<line x1="138.5" y1="868.8" x2="291" y2="868.8" stroke="#000" stroke-width="2.4"/>
<line x1="318.5" y1="868.8" x2="471" y2="868.8" stroke="#000" stroke-width="2.4"/>
<text x="214.8" y="858.8" font-size="17.5" text-anchor="middle">Sensitive</text>
<text x="395" y="858.8" font-size="17.5" text-anchor="middle">Resistant</text>
<line x1="147" y1="901.46" x2="147" y2="889.73" stroke="#000" stroke-width="2"/>
<line x1="139" y1="889.73" x2="155" y2="889.73" stroke="#000" stroke-width="2"/>
<rect x="132.5" y="901.46" width="29" height="122.44" fill="#fff" stroke="#000" stroke-width="2"/>
<line x1="192.2" y1="985.06" x2="192.2" y2="970.59" stroke="#000" stroke-width="2"/>
<line x1="184.2" y1="970.59" x2="200.2" y2="970.59" stroke="#000" stroke-width="2"/>
<rect x="176.7" y="984.06" width="31" height="39.84" fill="#000"/>
<line x1="237.4" y1="969.11" x2="237.4" y2="956.47" stroke="#000" stroke-width="2"/>
<line x1="229.4" y1="956.47" x2="245.4" y2="956.47" stroke="#000" stroke-width="2"/>
<rect x="222.9" y="969.11" width="29" height="54.79" fill="#fff" stroke="#000" stroke-width="2"/>
<line x1="282.6" y1="983.01" x2="282.6" y2="973.44" stroke="#000" stroke-width="2"/>
<line x1="274.6" y1="973.44" x2="290.6" y2="973.44" stroke="#000" stroke-width="2"/>
<rect x="267.1" y="982.01" width="31" height="41.89" fill="#000"/>
<line x1="327.8" y1="907.15" x2="327.8" y2="889.5" stroke="#000" stroke-width="2"/>
<line x1="319.8" y1="889.5" x2="335.8" y2="889.5" stroke="#000" stroke-width="2"/>
<rect x="313.3" y="907.15" width="29" height="116.75" fill="#fff" stroke="#000" stroke-width="2"/>
<line x1="373" y1="940.75" x2="373" y2="931.64" stroke="#000" stroke-width="2"/>
<line x1="365" y1="931.64" x2="381" y2="931.64" stroke="#000" stroke-width="2"/>
<rect x="357.5" y="939.75" width="31" height="84.15" fill="#000"/>
<line x1="418.2" y1="918.54" x2="418.2" y2="913.64" stroke="#000" stroke-width="2"/>
<line x1="410.2" y1="913.64" x2="426.2" y2="913.64" stroke="#000" stroke-width="2"/>
<rect x="403.7" y="918.54" width="29" height="105.36" fill="#fff" stroke="#000" stroke-width="2"/>
<line x1="463.4" y1="919.34" x2="463.4" y2="914.1" stroke="#000" stroke-width="2"/>
<line x1="455.4" y1="914.1" x2="471.4" y2="914.1" stroke="#000" stroke-width="2"/>
<rect x="447.9" y="918.34" width="31" height="105.56" fill="#000"/>
<text x="191.9" y="954" font-size="11" text-anchor="middle">**</text>
<text x="237.1" y="942.6" font-size="11" text-anchor="middle">*</text>
<text x="282.3" y="953.6" font-size="11" text-anchor="middle">**</text>
<text x="372.7" y="916.8" font-size="11" text-anchor="middle">*</text>
<text x="168" y="1042.7" font-size="13" text-anchor="middle">COR-L103</text>
<text x="256" y="1042.7" font-size="13" text-anchor="middle">NCI-H1048</text>
<text x="347.5" y="1042.7" font-size="13" text-anchor="middle">DMS114</text>
<text x="438.4" y="1042.7" font-size="13" text-anchor="middle">DMS79</text>
<text transform="translate(28.6 1070) scale(0.95 1)" font-size="29" font-weight="bold">D</text>
<line x1="123.2" y1="1091.2" x2="123.2" y2="1229.4" stroke="#000" stroke-width="2"/>
<line x1="123.2" y1="1228.4" x2="486" y2="1228.4" stroke="#000" stroke-width="2"/>
<line x1="113.5" y1="1228.4" x2="123.2" y2="1228.4" stroke="#000" stroke-width="2"/>
<text x="110.5" y="1232.9" font-size="12.5" text-anchor="end" font-weight="bold">0</text>
<line x1="113.5" y1="1201.16" x2="123.2" y2="1201.16" stroke="#000" stroke-width="2"/>
<text x="110.5" y="1205.66" font-size="12.5" text-anchor="end" font-weight="bold">1</text>
<line x1="113.5" y1="1173.92" x2="123.2" y2="1173.92" stroke="#000" stroke-width="2"/>
<text x="110.5" y="1178.42" font-size="12.5" text-anchor="end" font-weight="bold">2</text>
<line x1="113.5" y1="1146.68" x2="123.2" y2="1146.68" stroke="#000" stroke-width="2"/>
<text x="110.5" y="1151.18" font-size="12.5" text-anchor="end" font-weight="bold">3</text>
<line x1="113.5" y1="1119.44" x2="123.2" y2="1119.44" stroke="#000" stroke-width="2"/>
<text x="110.5" y="1123.94" font-size="12.5" text-anchor="end" font-weight="bold">4</text>
<line x1="113.5" y1="1092.2" x2="123.2" y2="1092.2" stroke="#000" stroke-width="2"/>
<text x="110.5" y="1096.7" font-size="12.5" text-anchor="end" font-weight="bold">5</text>
<text x="64.6" y="1161.4" font-size="17.5" text-anchor="middle" transform="rotate(-90 64.6 1161.4)">Lactate concentration</text>
<text x="86.6" y="1161.4" font-size="17.5" text-anchor="middle" transform="rotate(-90 86.6 1161.4)">(fold change vs. UnT)</text>
<rect x="130.9" y="1200.62" width="29" height="27.78" fill="#fff" stroke="#000" stroke-width="2"/>
<line x1="145.4" y1="1207.97" x2="145.4" y2="1193.53" stroke="#000" stroke-width="2"/>
<line x1="137.4" y1="1207.97" x2="153.4" y2="1207.97" stroke="#000" stroke-width="2"/>
<line x1="137.4" y1="1193.53" x2="153.4" y2="1193.53" stroke="#000" stroke-width="2"/>
<rect x="175.1" y="1125.52" width="31" height="102.88" fill="#000"/>
<line x1="190.6" y1="1126.52" x2="190.6" y2="1113.17" stroke="#000" stroke-width="2"/>
<line x1="182.6" y1="1113.17" x2="198.6" y2="1113.17" stroke="#000" stroke-width="2"/>
<rect x="221.3" y="1128.7" width="29" height="99.7" fill="#fff" stroke="#000" stroke-width="2"/>
<line x1="235.8" y1="1135.78" x2="235.8" y2="1122.44" stroke="#000" stroke-width="2"/>
<line x1="227.8" y1="1135.78" x2="243.8" y2="1135.78" stroke="#000" stroke-width="2"/>
<line x1="227.8" y1="1122.44" x2="243.8" y2="1122.44" stroke="#000" stroke-width="2"/>
<rect x="265.5" y="1121.71" width="31" height="106.69" fill="#000"/>
<line x1="281" y1="1122.71" x2="281" y2="1109.09" stroke="#000" stroke-width="2"/>
<line x1="273" y1="1109.09" x2="289" y2="1109.09" stroke="#000" stroke-width="2"/>
<rect x="311.7" y="1182.91" width="29" height="45.49" fill="#fff" stroke="#000" stroke-width="2"/>
<line x1="326.2" y1="1189.99" x2="326.2" y2="1176.1" stroke="#000" stroke-width="2"/>
<line x1="318.2" y1="1189.99" x2="334.2" y2="1189.99" stroke="#000" stroke-width="2"/>
<line x1="318.2" y1="1176.1" x2="334.2" y2="1176.1" stroke="#000" stroke-width="2"/>
<rect x="355.9" y="1188.99" width="31" height="39.41" fill="#000"/>
<line x1="371.4" y1="1189.99" x2="371.4" y2="1187" stroke="#000" stroke-width="2"/>
<line x1="363.4" y1="1187" x2="379.4" y2="1187" stroke="#000" stroke-width="2"/>
<rect x="402.1" y="1178.01" width="29" height="50.39" fill="#fff" stroke="#000" stroke-width="2"/>
<line x1="416.6" y1="1193.81" x2="416.6" y2="1162.75" stroke="#000" stroke-width="2"/>
<line x1="408.6" y1="1193.81" x2="424.6" y2="1193.81" stroke="#000" stroke-width="2"/>
<line x1="408.6" y1="1162.75" x2="424.6" y2="1162.75" stroke="#000" stroke-width="2"/>
<rect x="446.3" y="1190.08" width="31" height="38.32" fill="#000"/>
<line x1="461.8" y1="1191.08" x2="461.8" y2="1185.91" stroke="#000" stroke-width="2"/>
<line x1="453.8" y1="1185.91" x2="469.8" y2="1185.91" stroke="#000" stroke-width="2"/>
<text x="190.6" y="1102.5" font-size="11" text-anchor="middle">**</text>
<text x="235.8" y="1102.5" font-size="11" text-anchor="middle">***</text>
<text x="281" y="1102.5" font-size="11" text-anchor="middle">***</text>
<text x="326.2" y="1167.8" font-size="11" text-anchor="middle">*</text>
<text x="371.4" y="1177.9" font-size="11" text-anchor="middle">*</text>
<text x="168" y="1250" font-size="13" text-anchor="middle">COR-L103</text>
<text x="256" y="1250" font-size="13" text-anchor="middle">NCI-H1048</text>
<text x="349" y="1250" font-size="13" text-anchor="middle">DMS114</text>
<text x="441.5" y="1250" font-size="13" text-anchor="middle">DMS79</text>
<rect x="403" y="1092.2" width="10" height="9.8" fill="#fff" stroke="#000" stroke-width="2"/>
<rect x="402.3" y="1115.1" width="11.7" height="10.5" fill="#000"/>
<text x="423.6" y="1101" font-size="13">Normoxia</text>
<text x="423.6" y="1124.1" font-size="13">Hypoxia</text>
<rect x="0" y="2" width="3" height="1276" fill="#d2d2d2"/>
<rect x="0" y="2" width="520" height="1" fill="#d2d2d2"/>
<rect x="516" y="0" width="1" height="1280" fill="#e6e6e6"/>
<rect x="517" y="0" width="1" height="1280" fill="#a0a0a0"/>
<rect x="0" y="1277" width="520" height="1" fill="#b4b4b4"/>
<rect x="0" y="0" width="2" height="1280" fill="#616161"/>
<rect x="0" y="0" width="520" height="2" fill="#616161"/>
<rect x="518" y="0" width="2" height="1280" fill="#616161"/>
<rect x="0" y="1278" width="520" height="1" fill="#5e5e5e"/>
<rect x="0" y="1279" width="520" height="1" fill="#747474"/>
</svg></div>
</body></html>
